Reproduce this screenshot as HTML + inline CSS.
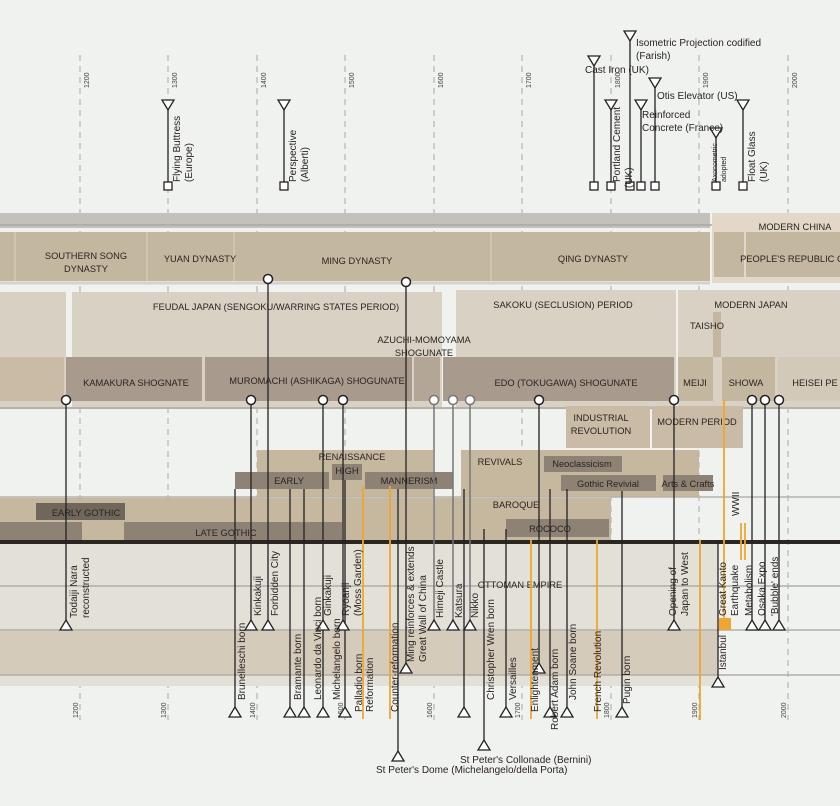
<!DOCTYPE html>
<html><head><meta charset="utf-8"><style>
html,body{margin:0;padding:0;background:#eff2ee;}
svg{display:block;font-family:"Liberation Sans",sans-serif;}
.t{font-size:9.3px;fill:#2a2420;}
.s{font-size:10px;fill:#2a2420;}
.y{font-size:7px;fill:#444;}
</style></head><body>
<svg width="840" height="806" viewBox="0 0 840 806">
<rect width="840" height="806" fill="#eff2ee"/>
<g stroke="#a9a9a4" stroke-width="1" stroke-dasharray="6,5">
<line x1="80" y1="55" x2="80" y2="720"/><line x1="168" y1="55" x2="168" y2="720"/>
<line x1="257" y1="55" x2="257" y2="720"/><line x1="345" y1="55" x2="345" y2="720"/>
<line x1="434" y1="55" x2="434" y2="720"/><line x1="522" y1="55" x2="522" y2="720"/>
<line x1="611" y1="55" x2="611" y2="720"/><line x1="699" y1="55" x2="699" y2="720"/>
<line x1="788" y1="55" x2="788" y2="720"/>
</g>
<g class="y">
<text transform="translate(89,88) rotate(-90)">1200</text><text transform="translate(177,88) rotate(-90)">1300</text>
<text transform="translate(266,88) rotate(-90)">1400</text><text transform="translate(354,88) rotate(-90)">1500</text>
<text transform="translate(443,88) rotate(-90)">1600</text><text transform="translate(531,88) rotate(-90)">1700</text>
<text transform="translate(620,88) rotate(-90)">1800</text><text transform="translate(708,88) rotate(-90)">1900</text>
<text transform="translate(797,88) rotate(-90)">2000</text>
<text transform="translate(78,718) rotate(-90)">1200</text><text transform="translate(166,718) rotate(-90)">1300</text>
<text transform="translate(255,718) rotate(-90)">1400</text><text transform="translate(343,718) rotate(-90)">1500</text>
<text transform="translate(432,718) rotate(-90)">1600</text><text transform="translate(520,718) rotate(-90)">1700</text>
<text transform="translate(609,718) rotate(-90)">1800</text><text transform="translate(697,718) rotate(-90)">1900</text>
<text transform="translate(786,718) rotate(-90)">2000</text>
</g>
<rect x="0" y="213" width="710" height="15" fill="#c4c1bc"/>
<line x1="0" y1="225" x2="840" y2="225" stroke="#aaa7a2" stroke-width="1.5"/>
<rect x="712" y="213" width="128" height="70" fill="#e3d8c8"/>
<rect x="0" y="232" width="710" height="49" fill="#c4b7a0"/>
<g stroke="#cfc4b0" stroke-width="2"><line x1="15" y1="232" x2="15" y2="281"/><line x1="147" y1="232" x2="147" y2="281"/><line x1="234" y1="232" x2="234" y2="281"/><line x1="491" y1="232" x2="491" y2="281"/></g>
<rect x="714" y="232" width="30" height="45" fill="#c4b7a0"/><rect x="746" y="232" width="94" height="45" fill="#c4b7a0"/>
<line x1="0" y1="283" x2="710" y2="283" stroke="#d5d2cc" stroke-width="3"/>
<rect x="0" y="292" width="66" height="116" fill="#d8d0c2"/>
<rect x="72" y="292" width="370" height="116" fill="#d8d1c4"/>
<rect x="456" y="290" width="220" height="118" fill="#d8d1c4"/>
<rect x="678" y="290" width="162" height="118" fill="#d8d1c4"/>
<rect x="0" y="357" width="64" height="44" fill="#c9bba5"/>
<rect x="66" y="357" width="136" height="44" fill="#a89a8c"/>
<rect x="205" y="357" width="207" height="44" fill="#a89a8c"/>
<rect x="414" y="357" width="26" height="44" fill="#b3a696"/>
<rect x="443" y="357" width="231" height="44" fill="#a89a8c"/>
<rect x="678" y="357" width="35" height="44" fill="#c4b7a0"/>
<rect x="713" y="312" width="8" height="45" fill="#c4b7a0"/>
<rect x="722" y="357" width="53" height="44" fill="#c4b7a0"/>
<rect x="778" y="357" width="62" height="44" fill="#d3c9b8"/>
<line x1="0" y1="408" x2="840" y2="408" stroke="#b5b2ac" stroke-width="2"/>
<rect x="566" y="406" width="84" height="42" fill="#c9bba5"/>
<rect x="652" y="406" width="91" height="42" fill="#c9bba5"/>
<rect x="257" y="450" width="176" height="47" fill="#c6b79f"/>
<rect x="461" y="450" width="238" height="47" fill="#c6b79f"/>
<rect x="235" y="472" width="94" height="17" fill="#8e8274"/>
<rect x="332" y="464" width="30" height="16" fill="#8e8274"/>
<rect x="365" y="472" width="88" height="17" fill="#8e8274"/>
<rect x="544" y="456" width="78" height="16" fill="#8e8274"/>
<rect x="561" y="475" width="95" height="16" fill="#8e8274"/>
<rect x="663" y="475" width="50" height="16" fill="#8e8274"/>
<line x1="0" y1="497" x2="840" y2="497" stroke="#b5b2ac" stroke-width="1.5"/>
<rect x="0" y="498" width="433" height="42" fill="#c6b79f"/>
<rect x="434" y="498" width="177" height="42" fill="#c6b79f"/>
<rect x="36" y="503" width="89" height="17" fill="#6f665c"/>
<rect x="0" y="522" width="82" height="18" fill="#8e8274"/>
<rect x="124" y="522" width="218" height="18" fill="#8e8274"/>
<rect x="506" y="519" width="103" height="18" fill="#8e8274"/>
<rect x="0" y="544" width="718" height="142" fill="#e3e0d8"/>
<rect x="0" y="631" width="718" height="44" fill="#d4cbbb"/>
<g stroke="#b0aea8" stroke-width="1.5"><line x1="0" y1="586" x2="840" y2="586"/><line x1="0" y1="630" x2="840" y2="630"/><line x1="0" y1="675" x2="840" y2="675"/></g>
<rect x="0" y="540" width="840" height="4" fill="#2a2622"/>
<g class="t" text-anchor="middle">
<text x="86" y="259">SOUTHERN SONG</text><text x="86" y="272">DYNASTY</text>
<text x="200" y="262">YUAN DYNASTY</text><text x="357" y="264">MING DYNASTY</text>
<text x="593" y="262">QING DYNASTY</text><text x="795" y="230">MODERN CHINA</text>
<text x="795" y="262">PEOPLE'S REPUBLIC OF</text>
<text x="276" y="310">FEUDAL JAPAN (SENGOKU/WARRING STATES PERIOD)</text>
<text x="424" y="343">AZUCHI-MOMOYAMA</text><text x="424" y="356">SHOGUNATE</text>
<text x="563" y="308">SAKOKU (SECLUSION) PERIOD</text><text x="751" y="308">MODERN JAPAN</text>
<text x="707" y="329">TAISHO</text>
<text x="136" y="386">KAMAKURA SHOGNATE</text><text x="317" y="384">MUROMACHI (ASHIKAGA) SHOGUNATE</text>
<text x="566" y="386">EDO (TOKUGAWA) SHOGUNATE</text><text x="695" y="386">MEIJI</text>
<text x="746" y="386">SHOWA</text><text x="815" y="386">HEISEI PE</text>
<text x="601" y="421">INDUSTRIAL</text><text x="601" y="434">REVOLUTION</text>
<text x="697" y="425">MODERN PERIOD</text>
<text x="352" y="460">RENAISSANCE</text><text x="347" y="474">HIGH</text>
<text x="289" y="484">EARLY</text><text x="409" y="484">MANNERISM</text>
<text x="500" y="465">REVIVALS</text><text x="582" y="467">Neoclassicism</text>
<text x="608" y="487">Gothic Revivial</text><text x="688" y="487">Arts &amp; Crafts</text>
<text x="86" y="516">EARLY GOTHIC</text><text x="226" y="536">LATE GOTHIC</text>
<text x="516" y="508">BAROQUE</text><text x="550" y="532">ROCOCO</text>
<text x="520" y="588">OTTOMAN EMPIRE</text>
</g>
<g stroke="#f0a531" stroke-width="1.8">
<line x1="363" y1="486" x2="363" y2="719"/><line x1="390" y1="486" x2="390" y2="719"/>
<line x1="531" y1="540" x2="531" y2="719"/><line x1="597" y1="540" x2="597" y2="719"/>
<line x1="700" y1="540" x2="700" y2="720"/><line x1="724" y1="400" x2="724" y2="630"/>
<line x1="741" y1="523" x2="741" y2="560"/><line x1="745" y1="523" x2="745" y2="560"/>
</g>
<rect x="719" y="618" width="12" height="12" fill="#f0a531"/>
<g stroke="#222" stroke-width="1.3" fill="none">
<line x1="66" y1="400" x2="66" y2="622"/>
<line x1="235" y1="489" x2="235" y2="708"/><line x1="251" y1="400" x2="251" y2="622"/>
<line x1="268" y1="279" x2="268" y2="622"/><line x1="290" y1="489" x2="290" y2="708"/>
<line x1="304" y1="489" x2="304" y2="708"/><line x1="323" y1="400" x2="323" y2="708"/>
<line x1="343" y1="400" x2="343" y2="622"/><line x1="345" y1="480" x2="345" y2="708"/>
<line x1="398" y1="489" x2="398" y2="752"/><line x1="406" y1="282" x2="406" y2="664"/>
<line x1="464" y1="489" x2="464" y2="708"/><line x1="484" y1="529" x2="484" y2="740"/>
<line x1="506" y1="529" x2="506" y2="708"/><line x1="539" y1="400" x2="539" y2="664"/>
<line x1="550" y1="489" x2="550" y2="708"/><line x1="567" y1="489" x2="567" y2="708"/>
<line x1="622" y1="491" x2="622" y2="708"/><line x1="674" y1="400" x2="674" y2="622"/>
<line x1="718" y1="540" x2="718" y2="678"/>
<line x1="752" y1="400" x2="752" y2="622"/><line x1="765" y1="400" x2="765" y2="622"/><line x1="779" y1="400" x2="779" y2="622"/>
</g>
<g stroke="#777" stroke-width="1.5"><line x1="434" y1="400" x2="434" y2="622"/><line x1="453" y1="400" x2="453" y2="622"/><line x1="470" y1="400" x2="470" y2="622"/></g>
<g fill="#fff" stroke="#222" stroke-width="1.5">
<circle cx="66" cy="400" r="4.5"/><circle cx="251" cy="400" r="4.5"/><circle cx="323" cy="400" r="4.5"/><circle cx="343" cy="400" r="4.5"/>
<circle cx="539" cy="400" r="4.5"/><circle cx="674" cy="400" r="4.5"/><circle cx="752" cy="400" r="4.5"/><circle cx="765" cy="400" r="4.5"/><circle cx="779" cy="400" r="4.5"/>
<circle cx="268" cy="279" r="4.5"/><circle cx="406" cy="282" r="4.5"/>
</g>
<g fill="#fff" stroke="#777" stroke-width="1.5"><circle cx="434" cy="400" r="4.5"/><circle cx="453" cy="400" r="4.5"/><circle cx="470" cy="400" r="4.5"/></g>
<g fill="#fff" stroke="#222" stroke-width="1.3">
<path d="M66 620 l6 10 h-12z"/><path d="M251 620 l6 10 h-12z"/><path d="M268 620 l6 10 h-12z"/>
<path d="M323 620 l6 10 h-12z"/><path d="M343 620 l6 10 h-12z"/>
<path d="M434 620 l6 10 h-12z"/><path d="M453 620 l6 10 h-12z"/><path d="M470 620 l6 10 h-12z"/>
<path d="M674 620 l6 10 h-12z"/><path d="M752 620 l6 10 h-12z"/><path d="M765 620 l6 10 h-12z"/><path d="M779 620 l6 10 h-12z"/>
<path d="M235 707 l6 10 h-12z"/><path d="M290 707 l6 10 h-12z"/><path d="M304 707 l6 10 h-12z"/><path d="M323 707 l6 10 h-12z"/><path d="M345 707 l6 10 h-12z"/>
<path d="M464 707 l6 10 h-12z"/><path d="M506 707 l6 10 h-12z"/><path d="M550 707 l6 10 h-12z"/><path d="M567 707 l6 10 h-12z"/><path d="M622 707 l6 10 h-12z"/>
<path d="M398 751 l6 10 h-12z"/><path d="M484 740 l6 10 h-12z"/><path d="M406 663 l6 10 h-12z"/><path d="M539 663 l6 10 h-12z"/><path d="M718 677 l6 10 h-12z"/>
</g>
<g stroke="#222" stroke-width="1.3" fill="#fff">
<line x1="168" y1="102" x2="168" y2="182"/><path d="M162 100 h12 l-6 10z"/><rect x="164" y="182" width="8" height="8"/>
<line x1="284" y1="102" x2="284" y2="182"/><path d="M278 100 h12 l-6 10z"/><rect x="280" y="182" width="8" height="8"/>
<line x1="594" y1="58" x2="594" y2="182"/><path d="M588 56 h12 l-6 10z"/><rect x="590" y="182" width="8" height="8"/>
<line x1="611" y1="102" x2="611" y2="182"/><path d="M605 100 h12 l-6 10z"/><rect x="607" y="182" width="8" height="8"/>
<line x1="630" y1="33" x2="630" y2="182"/><path d="M624 31 h12 l-6 10z"/><rect x="626" y="182" width="8" height="8"/>
<line x1="641" y1="102" x2="641" y2="182"/><path d="M635 100 h12 l-6 10z"/><rect x="637" y="182" width="8" height="8"/>
<line x1="655" y1="80" x2="655" y2="182"/><path d="M649 78 h12 l-6 10z"/><rect x="651" y="182" width="8" height="8"/>
<line x1="716" y1="130" x2="716" y2="182"/><path d="M710 128 h12 l-6 10z"/><rect x="712" y="182" width="8" height="8"/>
<line x1="743" y1="102" x2="743" y2="182"/><path d="M737 100 h12 l-6 10z"/><rect x="739" y="182" width="8" height="8"/>
</g>
<g class="s">
<text x="636" y="46">Isometric Projection codified</text><text x="636" y="59">(Farish)</text>
<text x="585" y="73">Cast Iron (UK)</text><text x="657" y="99">Otis Elevator (US)</text>
<text x="642" y="118">Reinforced</text><text x="642" y="131">Concrete (France)</text>
<text transform="translate(180,182) rotate(-90)">Flying Buttress</text><text transform="translate(192,182) rotate(-90)">(Europe)</text>
<text transform="translate(296,182) rotate(-90)">Perspective</text><text transform="translate(308,182) rotate(-90)">(Alberti)</text>
<text transform="translate(620,182) rotate(-90)">Portland Cement</text><text transform="translate(632,188) rotate(-90)">(UK)</text>
<text transform="translate(717,182) rotate(-90)" style="font-size:7px">Axonometric</text><text transform="translate(726,182) rotate(-90)" style="font-size:7px">adopted</text>
<text transform="translate(755,182) rotate(-90)">Float Glass</text><text transform="translate(767,182) rotate(-90)">(UK)</text>
<text transform="translate(77,618) rotate(-90)">Todaiji Nara</text><text transform="translate(89,618) rotate(-90)">reconstructed</text>
<text transform="translate(261,616) rotate(-90)">Kinkakuji</text><text transform="translate(278,616) rotate(-90)">Forbidden City</text>
<text transform="translate(331,616) rotate(-90)">Ginkakuji</text><text transform="translate(349,616) rotate(-90)">Ryoanji</text>
<text transform="translate(361,616) rotate(-90)">(Moss Garden)</text>
<text transform="translate(245,700) rotate(-90)">Brunelleschi born</text><text transform="translate(301,700) rotate(-90)">Bramante born</text>
<text transform="translate(321,700) rotate(-90)">Leonardo da Vinci born</text><text transform="translate(340,700) rotate(-90)">Michelangelo born</text>
<text transform="translate(362,712) rotate(-90)">Palladio born</text><text transform="translate(373,712) rotate(-90)">Reformation</text>
<text transform="translate(398,712) rotate(-90)">Counter-reformation</text>
<text transform="translate(414,662) rotate(-90)">Ming reinforces &amp; extends</text><text transform="translate(426,662) rotate(-90)">Great Wall of China</text>
<text transform="translate(443,618) rotate(-90)">Himeji Castle</text><text transform="translate(462,618) rotate(-90)">Katsura</text><text transform="translate(478,618) rotate(-90)">Nikko</text>
<text transform="translate(494,700) rotate(-90)">Christopher Wren born</text><text transform="translate(516,700) rotate(-90)">Versailles</text>
<text transform="translate(538,712) rotate(-90)">Enlightenment</text><text transform="translate(558,730) rotate(-90)">Robert Adam born</text>
<text transform="translate(576,700) rotate(-90)">John Soane born</text><text transform="translate(601,712) rotate(-90)">French Revolution</text>
<text transform="translate(630,704) rotate(-90)">Pugin born</text>
<text transform="translate(676,616) rotate(-90)">Opening of</text><text transform="translate(688,616) rotate(-90)">Japan to West</text>
<text transform="translate(726,616) rotate(-90)">Great Kanto</text><text transform="translate(738,616) rotate(-90)">Earthquake</text>
<text transform="translate(726,670) rotate(-90)">Istanbul</text>
<text transform="translate(752,616) rotate(-90)">Metabolism</text><text transform="translate(765,616) rotate(-90)">Osaka Expo</text><text transform="translate(778,616) rotate(-90)">'Bubble' ends</text>
<text transform="translate(739,516) rotate(-90)">WWII</text>
<text x="376" y="773">St Peter's Dome (Michelangelo/della Porta)</text>
<text x="460" y="763">St Peter's Collonade (Bernini)</text>
</g>
</svg>
</body></html>
